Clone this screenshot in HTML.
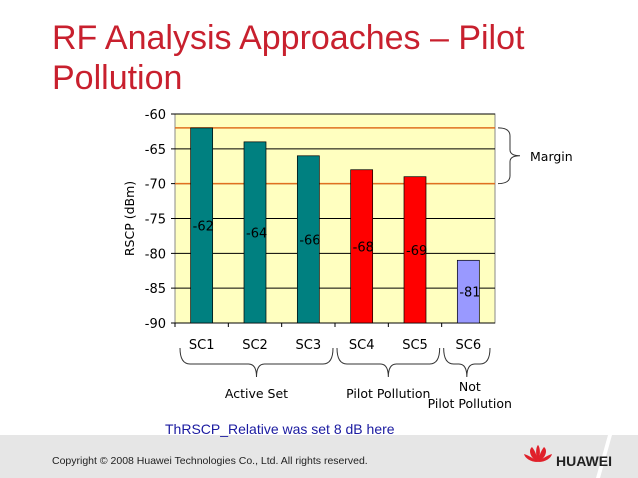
<!DOCTYPE html>
<html><head><meta charset="utf-8"><style>
body{margin:0;width:638px;height:478px;overflow:hidden;background:#fff;font-family:"Liberation Sans",sans-serif;position:relative}
#title{position:absolute;left:52px;top:18px;font-size:34px;line-height:40px;color:#c8202e;margin:0;font-weight:normal}
#footer{position:absolute;left:0;top:435px;width:638px;height:43px;background:#e6e6e6}
</style></head><body>
<h1 id="title">RF Analysis Approaches – Pilot<br>Pollution</h1>
<div id="footer"></div>
<svg id="chart" width="638" height="478" style="position:absolute;left:0;top:0" font-family="DejaVu Sans, Liberation Sans, sans-serif">
<rect x="0" y="99" width="638" height="10" fill="#fff"/>
<g id="plot"></g>
<polygon points="608,435 596,478 600,478 612,435" fill="#fff"/>
<text x="52" y="464" font-size="10.5" font-family="Liberation Sans, sans-serif" fill="#222">Copyright © 2008 Huawei Technologies Co., Ltd. All rights reserved.</text>
<g>
<g fill="#e0202a" transform="translate(538,462)">
<path d="M0,0 C-8,-4 -10,-12 -6,-15 C-2,-10 -1,-5 0,0Z"/>
<path d="M0,0 C8,-4 10,-12 6,-15 C2,-10 1,-5 0,0Z"/>
<path d="M0,0 C-3,-8 -2,-15 0,-17 C2,-15 3,-8 0,0Z"/>
<path d="M0,0 C-8,0 -13,-4 -14,-8 C-8,-6 -4,-3 0,0Z"/>
<path d="M0,0 C8,0 13,-4 14,-8 C8,-6 4,-3 0,0Z"/>
</g>
<text x="556" y="466" font-size="14" font-weight="bold" font-family="Liberation Sans, sans-serif" fill="#222">HUAWEI</text>
</g>
<text x="165" y="434" font-size="14" font-family="Liberation Sans, sans-serif" fill="#1a1aa0">ThRSCP_Relative was set 8 dB here</text>
</svg>
<script>
const categories=["SC1","SC2","SC3","SC4","SC5","SC6"];
const values=[-62,-64,-66,-68,-69,-81];
const barColors=["#008080","#008080","#008080","#ff0000","#ff0000","#9999ff"];
const yTicks=[-60,-65,-70,-75,-80,-85,-90];
const marginLines=[-62,-70];
const groups=[{label:["Active Set"],from:0,to:3},{label:["Pilot Pollution"],from:3,to:5},{label:["Not","Pilot Pollution"],from:5,to:6}];
const X0=175,X1=495,Y0=114,Y1=323,yMin=-90,yMax=-60;
const ns="http://www.w3.org/2000/svg";
const g=document.getElementById('plot');
const bw=(X1-X0)/categories.length;
const y=v=>Y1-(v-yMin)/(yMax-yMin)*(Y1-Y0);
const xc=i=>X0+bw*(i+0.5);
function mk(t,a,p){const e=document.createElementNS(ns,t);for(const k in a)e.setAttribute(k,a[k]);(p||g).appendChild(e);return e;}
let e=mk('rect',{x:X0,y:Y0,width:X1-X0,height:Y1-Y0,fill:"#ffffc0",stroke:"#888","stroke-width":1});


yTicks.forEach(t=>{
 const l=mk('line',{x1:X0-4,x2:X1,y1:y(t),y2:y(t),stroke:"#000","stroke-width":1});
 
 
 const tx=mk('text',{x:X0-9,y:y(t)+5,"text-anchor":"end","font-size":13,fill:"#000"});tx.textContent=t;
 
 
});
marginLines.forEach(m=>{
 const l=mk('line',{x1:X0,x2:X1,y1:y(m),y2:y(m),stroke:"#e07020","stroke-width":1.5});
 
 
});
categories.forEach((c,i)=>{
 const r=mk('rect',{x:xc(i)-11,y:y(values[i]),width:22,height:Y1-y(values[i]),fill:barColors[i],stroke:"#000","stroke-width":0.7});
 
 
 const v=mk('text',{x:xc(i)-9,y:(y(values[i])+Y1)/2+5,"font-size":13,fill:"#000"});v.textContent=values[i];
 
 
 const t=mk('text',{x:xc(i),y:Y1+26,"text-anchor":"middle","font-size":13,fill:"#000"});t.textContent=c;
 
 
 const tk=mk('line',{x1:X0+bw*i,x2:X0+bw*i,y1:Y1,y2:Y1+4,stroke:"#000"});
 
 
});
const yt=mk('text',{x:0,y:0,transform:`translate(134,${(Y0+Y1)/2}) rotate(-90)`,"text-anchor":"middle","font-size":12.5});yt.textContent="RSCP (dBm)";


groups.forEach((gr,k)=>{
 const a=X0+bw*gr.from+(k?2:5),b=X0+bw*gr.to-(k==2?5:2),m=(a+b)/2,t=348,h=29,mid=t+h*0.55;
 const p=mk('path',{d:`M${a},${t} Q${a},${mid} ${a+10},${mid} L${m-8},${mid} Q${m},${mid} ${m},${t+h} Q${m},${mid} ${m+8},${mid} L${b-10},${mid} Q${b},${mid} ${b},${t}`,fill:"none",stroke:"#333","stroke-width":1});
 
 
 gr.label.forEach((s,j)=>{
  const tx=mk('text',{x:m+(k==2?3:0),y:(gr.label.length==2?391:398)+j*17,"text-anchor":"middle","font-size":12.5});tx.textContent=s;
  
  
 });
});
const y1=y(marginLines[0]),y2=y(marginLines[1]),ym=(y1+y2)/2;
const br=mk('path',{d:`M498,${y1} Q510,${y1} 510,${y1+8} L510,${ym-6} Q510,${ym} 520,${ym} Q510,${ym} 510,${ym+6} L510,${y2-8} Q510,${y2} 498,${y2}`,fill:"none",stroke:"#333","stroke-width":1});


const mt=mk('text',{x:530,y:ym+5,"font-size":12.5});mt.textContent="Margin";


</script>
</body></html>
